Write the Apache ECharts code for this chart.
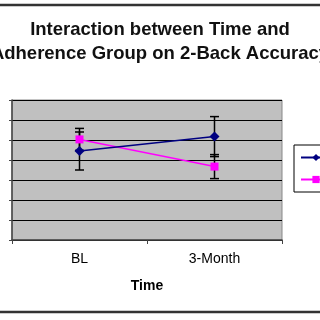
<!DOCTYPE html>
<html>
<head>
<meta charset="utf-8">
<script src="https://cdn.jsdelivr.net/npm/echarts@6/dist/echarts.min.js"></script>
<style>
  html, body { margin: 0; padding: 0; background: #fff; }
  #chart { width: 320px; height: 320px; }
</style>
</head>
<body>
<div id="chart"></div>
<script>
// values (accuracy, %); axis labels are cropped away in the source
const timePoints = ['BL', '3-Month']
const groupNames = ['Adherent', 'Non-Adherent']
const adherentMean = [74.5, 81.7]
const adherentErr = [9.5, 10]
const nonAdherentMean = [80.3, 66.7]
const nonAdherentErr = [5.5, 6]

const chart = echarts.init(document.getElementById('chart'))

// error bar: vertical line with caps
const errorBars = (means, errs) => ({
  type: 'custom',
  z: 1,
  silent: true,
  data: means.map((m, i) => [i, m - errs[i], m + errs[i]]),
  renderItem: (params, api) => {
    const lo = api.coord([api.value(0), api.value(1)])
    const hi = api.coord([api.value(0), api.value(2)])
    const w = 4.5
    const style = { stroke: '#000', lineWidth: 1.5 }
    return {
      type: 'group',
      children: [
        { type: 'line', shape: { x1: lo[0], y1: lo[1], x2: hi[0], y2: hi[1] }, style },
        { type: 'line', shape: { x1: lo[0] - w, y1: lo[1], x2: lo[0] + w, y2: lo[1] }, style },
        { type: 'line', shape: { x1: hi[0] - w, y1: hi[1], x2: hi[0] + w, y2: hi[1] }, style }
      ]
    }
  }
})

chart.setOption({
  animation: false,
  textStyle: { fontFamily: 'Liberation Sans, Arial, sans-serif' },
  title: {
    text: 'Interaction between Time and\nAdherence Group on 2-Back Accuracy',
    left: 'center',
    top: 13,
    textStyle: { fontSize: 18.5, fontWeight: 'bold', color: '#111', lineHeight: 24 }
  },
  legend: {
    orient: 'vertical',
    left: 294,
    top: 145,
    padding: [6, 8, 6, 6],
    itemWidth: 30,
    itemHeight: 9,
    itemGap: 9,
    borderColor: '#000',
    borderWidth: 1,
    backgroundColor: '#fff',
    textStyle: { fontSize: 13, color: '#000' },
    data: groupNames
  },
  grid: {
    left: 12, right: 38, top: 100, bottom: 80,
    show: true,
    backgroundColor: '#c0c0c0',
    borderColor: '#888',
    borderWidth: 1
  },
  xAxis: {
    type: 'category',
    data: timePoints,
    name: 'Time',
    nameLocation: 'middle',
    nameGap: 39,
    nameTextStyle: { fontSize: 14, fontWeight: 'bold', color: '#000' },
    axisLine: { lineStyle: { color: '#444', width: 1.5 } },
    axisTick: { show: true, length: 4, lineStyle: { color: '#444' } },
    axisLabel: { fontSize: 14, color: '#000', margin: 12 }
  },
  yAxis: {
    type: 'value',
    min: 30,
    max: 100,
    interval: 10,
    axisLine: { show: true, lineStyle: { color: '#444', width: 1.5 } },
    axisTick: { show: true, length: 3, lineStyle: { color: '#444' } },
    axisLabel: { show: false },
    splitLine: { lineStyle: { color: '#000', width: 1 } }
  },
  graphic: [
    { type: 'line', shape: { x1: 0, y1: 5, x2: 320, y2: 5 }, style: { stroke: '#333', lineWidth: 2.5 } },
    { type: 'line', shape: { x1: 0, y1: 312, x2: 320, y2: 312 }, style: { stroke: '#333', lineWidth: 2.5 } }
  ],
  series: [
    errorBars(nonAdherentMean, nonAdherentErr),
    errorBars(adherentMean, adherentErr),
    {
      name: groupNames[1],
      type: 'line',
      z: 3,
      data: nonAdherentMean,
      symbol: 'rect',
      symbolSize: 8,
      color: '#ff00ff',
      lineStyle: { width: 1.5, color: '#ff00ff' },
      itemStyle: { color: '#ff00ff' }
    },
    {
      name: groupNames[0],
      type: 'line',
      z: 4,
      data: adherentMean,
      symbol: 'diamond',
      symbolSize: 10,
      color: '#000080',
      lineStyle: { width: 1.5, color: '#000080' },
      itemStyle: { color: '#000080' }
    }
  ]
})
</script>
</body>
</html>
